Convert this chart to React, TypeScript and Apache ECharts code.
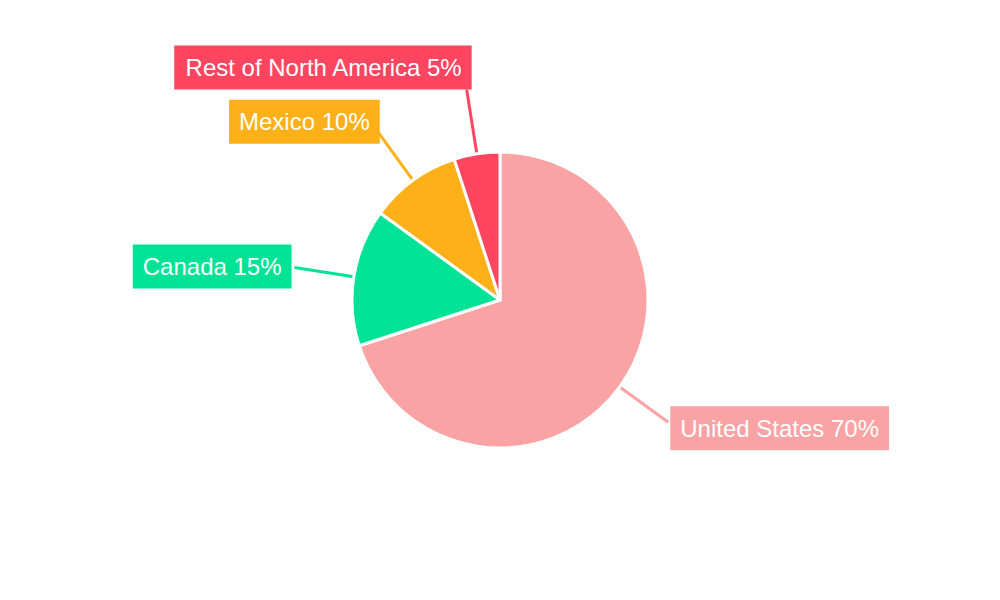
import React, { useEffect, useRef } from "react";
import * as echarts from "echarts";

const categories = ["United States", "Canada", "Mexico", "Rest of North America"];
const shares = [70, 15, 10, 5];
const colors = ["#F9A3A4", "#00E396", "#FEB019", "#FF4560"];

// label nudges and leader lengths (style only)
const labelShift: [number, number][] = [
  [-3, 6],
  [2, -1],
  [7, -10],
  [10, -22],
];
const leaderLength = [60, 60, 60, 65];

export default function App() {
  const ref = useRef<HTMLDivElement>(null);
  useEffect(() => {
    if (!ref.current) return;
    const chart = echarts.init(ref.current, null, { renderer: "svg" });
    chart.setOption({
      animation: false,
      backgroundColor: "#ffffff",
      series: [
        {
          type: "pie",
          center: [500, 300],
          radius: [0, 148],
          startAngle: 90,
          clockwise: true,
          avoidLabelOverlap: false,
          minShowLabelAngle: 0,
          labelLayout: (p: any) => ({
            hideOverlap: false,
            dx: labelShift[p.dataIndex][0],
            dy: labelShift[p.dataIndex][1],
          }),
          itemStyle: { borderColor: "#ffffff", borderWidth: 3 },
          label: {
            show: true,
            formatter: (p: any) => `${p.name} ${p.value}%`,
            color: "#ffffff",
            fontFamily: "Liberation Sans, Arial, sans-serif",
            fontSize: 24,
            lineHeight: 24,
            padding: [10, 10],
            backgroundColor: "inherit",
          },
          labelLine: {
            show: true,
            length: 60,
            length2: 0,
            smooth: false,
            lineStyle: { width: 3 },
          },
          data: categories.map((name, i) => ({
            name,
            value: shares[i],
            itemStyle: { color: colors[i] },
            label: { backgroundColor: colors[i] },
            labelLine: { length: leaderLength[i], length2: 0 },
          })),
        },
      ],
    });
    return () => chart.dispose();
  }, []);
  return (
    <div
      ref={ref}
      style={{ position: "fixed", left: 0, top: 0, width: 1000, height: 600 }}
    />
  );
}
